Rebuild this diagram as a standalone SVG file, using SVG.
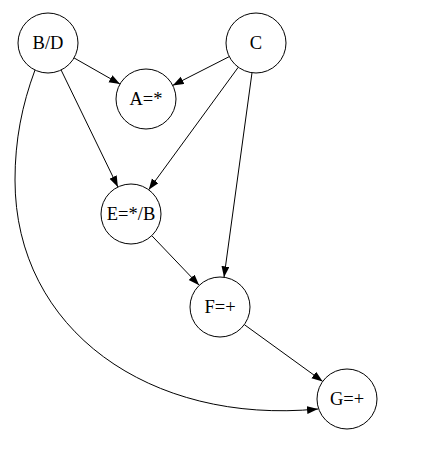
<svg xmlns="http://www.w3.org/2000/svg" width="431" height="450" viewBox="0 0 431 450">
<style>
.n circle{fill:#fff;stroke:#000;stroke-width:1}
.n text{font-family:'Liberation Serif','DejaVu Serif',serif;font-size:18.5px;text-anchor:middle;fill:#000}
.e path,.e line{fill:none;stroke:#000;stroke-width:1;marker-end:url(#ah)}
</style>
<defs>
<marker id="ah" markerUnits="userSpaceOnUse" markerWidth="11" markerHeight="9" refX="11" refY="4" orient="auto">
<path d="M0,0 L11,4 L0,8 z" fill="#000"/>
</marker>
</defs>
<rect width="431" height="450" fill="#fff"/>
<g id="edges" class="e">
<line x1="74" y1="57.9" x2="120" y2="84.1"/>
<line x1="229.3" y1="56.6" x2="172.7" y2="85.4"/>
<line x1="61.1" y1="70" x2="117.9" y2="187"/>
<line x1="238.3" y1="67.2" x2="148.7" y2="189.8"/>
<line x1="252" y1="72.7" x2="224" y2="277.3"/>
<line x1="151.8" y1="235.7" x2="199.2" y2="285.3"/>
<line x1="244.3" y1="324.6" x2="322.7" y2="381.4"/>
<path d="M35,70 C22,105 15,140 15,180 C15,330 150,425 318,409"/>
</g>
<g id="node-BD" class="n"><circle cx="48" cy="43" r="30"/><text x="48" y="49">B/D</text></g>
<g id="node-C" class="n"><circle cx="256" cy="43" r="30"/><text x="256" y="49">C</text></g>
<g id="node-A" class="n"><circle cx="146" cy="99" r="30"/><text x="146" y="105">A=*</text></g>
<g id="node-E" class="n"><circle cx="131" cy="214" r="30"/><text x="131" y="220">E=*/B</text></g>
<g id="node-F" class="n"><circle cx="220" cy="307" r="30"/><text x="220" y="313">F=+</text></g>
<g id="node-G" class="n"><circle cx="347" cy="399" r="30"/><text x="347" y="405">G=+</text></g>
</svg>
